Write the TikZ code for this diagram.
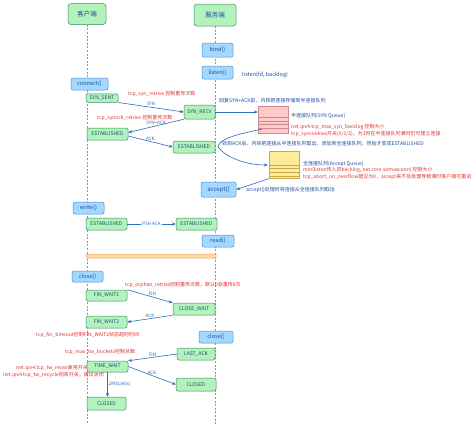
\documentclass[tikz,border=0pt]{standalone}
\usepackage{fontspec}
\setmainfont{Noto Sans CJK SC}
\usetikzlibrary{arrows.meta,calc}
\definecolor{gfill}{HTML}{B2F2BB}
\definecolor{gstroke}{HTML}{3A8A6A}
\definecolor{stext}{HTML}{1E4F7A}
\definecolor{bfill}{HTML}{A5D8FF}
\definecolor{bstroke}{HTML}{4A8BD0}
\definecolor{btext}{HTML}{1C4F9C}
\definecolor{redc}{HTML}{E03131}
\definecolor{annc}{HTML}{1C4FA0}
\definecolor{arrc}{HTML}{2F6DB5}
\definecolor{lifec}{HTML}{7A9AB8}
\definecolor{pinkf}{HTML}{FFC9C9}
\definecolor{pinks}{HTML}{C98A94}
\definecolor{yelf}{HTML}{FFEC99}
\definecolor{yels}{HTML}{C9A84A}
\definecolor{oranf}{HTML}{FFD8A8}
\definecolor{orans}{HTML}{E8A060}
\tikzset{
  base/.style={draw, rounded corners=2pt, line width=0.5pt, inner sep=0pt, align=center},
  gbox/.style={base, fill=gfill, draw=gstroke, text=stext, font=\fontsize{5}{5.5}\selectfont},
  bbox/.style={base, fill=bfill, draw=bstroke, text=btext, font=\fontsize{5.6}{6}\selectfont},
  hbox/.style={base, fill=gfill, draw=gstroke, text=btext, rounded corners=3pt, font=\fontsize{6.5}{7}\selectfont},
  redt/.style={anchor=west, inner sep=0pt, text=redc, font=\fontsize{5}{5.5}\selectfont},
  annt/.style={anchor=west, inner sep=0pt, text=annc, font=\fontsize{5}{5.5}\selectfont},
  msg/.style={-{Stealth[length=3.8pt,width=3.2pt]}, draw=arrc, line width=0.6pt},
  lbl/.style={text=arrc, font=\fontsize{4.6}{5}\selectfont, inner sep=1pt},
  life/.style={draw=lifec, dash pattern=on 2pt off 1.6pt, line width=0.5pt},
  queue/.style={draw, line width=0.5pt, inner sep=0pt}
}
\begin{document}
\begin{tikzpicture}[x=1pt,y=-1pt]
\useasboundingbox[fill=white] (0,0) rectangle (474,424);
% headers
\node[hbox, minimum width=38, minimum height=21] (client) at (87,14) {客户端};
\node[hbox, minimum width=42, minimum height=22] (server) at (215,15) {服务端};
\coordinate (cend) at (87,424);
\coordinate (send) at (215,424);
\draw[life] (client.south) -- (cend);
\draw[life] (server.south) -- (send);
% server setup
\node[bbox, minimum width=31, minimum height=14] (bind) at (217.5,50) {bind()};
\node[bbox, minimum width=31, minimum height=13] (listen) at (217.5,72.5) {listen()};
\node[annt, font=\fontsize{5.5}{6}\selectfont] (t1) at (242,75) {listen(fd, backlog)};
% connect
\node[bbox, minimum width=37, minimum height=12] (connect) at (89.5,84) {connect()};
\node[gbox, minimum width=32, minimum height=8.5] (synsent) at (102,98) {SYN\_SENT};
\node[redt] (t2) at (128,94) {tcp\_syn\_retries 控制重传次数};
\node[annt] (t3) at (219,101) {回复SYN+ACK前，内核把连接存储到半连接队列};
\node[gbox, minimum width=31, minimum height=14] (synrecv) at (199.5,112) {SYN\_RECV};
\node[redt] (t4) at (97,118) {tcp\_synack\_retries 控制重传次数};
\node[gbox, minimum width=41, minimum height=12] (estc) at (107.5,134) {ESTABLISHED};
\node[gbox, minimum width=42, minimum height=12] (ests) at (194,147) {ESTABLISHED};
\draw[msg] (synsent.south east) -- node[lbl, above, pos=0.5] {SYN} (synrecv.west);
\draw[msg] (synrecv.south west) -- node[lbl, above, pos=0.5] {SYN+ACK} ([yshift=1.5pt]estc.east);
\draw[msg] ([yshift=-2pt]estc.east) -- node[lbl, above, pos=0.5] {ACK} (ests.west);
% syn queue
\node[queue, draw=pinks, fill=pinkf, minimum width=30, minimum height=27] (synq) at (273,119.5) {};
\draw[pinks, line width=0.5pt] (258,117.3) -- (288,117.3) (258,121) -- (288,121) (258,124.7) -- (288,124.7) (258,128.7) -- (288,128.7);
\draw[msg] (synrecv.east) -- (synrecv.east -| synq.west);
\node[annt] (t5) at (291,116) {半连接队列(SYN Queue)};
\node[redt] (t6) at (291,127) {net.ipv4.tcp\_max\_syn\_backlog 控制大小};
\node[redt] (t7) at (291,133.5) {tcp\_syncookies开关(0/1/2)，为1时在半连接队列满时仍可建立连接};
\node[annt] (t8) at (222,143.5) {收到ACK后，内核把连接从半连接队列取出，添加到全连接队列，然后才变成ESTABLISHED};
% accept queue
\node[queue, draw=yels, fill=yelf, minimum width=30, minimum height=27] (accq) at (284,165) {};
\draw[yels, line width=0.5pt] (269,164.8) -- (299,164.8) (269,168.5) -- (299,168.5) (269,172.3) -- (299,172.3) (269,175.8) -- (299,175.8);
\draw[msg] ([xshift=4pt,yshift=4pt]synq.south west) .. controls (238,134) and (218,139) .. ([xshift=3pt]ests.east) .. controls (224,156) and (244,165) .. ([xshift=-1pt]accq.west);
\node[annt] (t9) at (303,163.5) {全连接队列(Accept Queue)};
\node[redt] (t10) at (303,170.5) {min(listen传入的backlog, net.core.somaxconn) 控制大小};
\node[redt] (t11) at (303,177) {tcp\_abort\_on\_overflow建议为0，accept来不及处理导致满时客户端可重试};
\node[bbox, minimum width=35, minimum height=15, font=\fontsize{6}{6.5}\selectfont] (accept) at (218.5,189.5) {accept()};
\draw[msg] (accq.south west) -- (accept.east);
\node[annt] (t12) at (246,189.5) {accept()处理时将连接从全连接队列取出};
% data transfer
\node[bbox, minimum width=31, minimum height=12] (write) at (88.5,208) {write()};
\node[gbox, minimum width=41, minimum height=12] (estc2) at (106.5,224) {ESTABLISHED};
\node[gbox, minimum width=41, minimum height=12] (ests2) at (196.5,224) {ESTABLISHED};
\draw[msg] (estc2.east) -- node[lbl, fill=white, inner sep=0.8pt] {PSH ACK} (ests2.west);
\node[bbox, minimum width=32, minimum height=12] (read) at (218,241) {read()};
\node[base, fill=oranf, draw=orans, rounded corners=0.8pt, minimum width=130, minimum height=4] (bar) at (151,256) {};
% close
\node[bbox, minimum width=31, minimum height=11] (closec) at (87.5,276.5) {close()};
\node[redt] (t13) at (125,285) {tcp\_orphan\_retries控制重传次数，默认0会重传8次};
\node[gbox, minimum width=41, minimum height=11] (fw1) at (106.5,295.5) {FIN\_WAIT1};
\node[gbox, minimum width=42, minimum height=12] (closewait) at (194,309) {CLOSE\_WAIT};
\node[gbox, minimum width=41, minimum height=12] (fw2) at (106.5,322) {FIN\_WAIT2};
\draw[msg] (fw1.north east) -- node[lbl, above, pos=0.55] {FIN} (closewait.north west);
\draw[msg] (closewait.south west) -- node[lbl, above, pos=0.5] {ACK} (fw2.east);
\node[redt] (t14) at (36,335) {tcp\_fin\_timeout控制FIN\_WAIT2状态超时时间};
\node[bbox, minimum width=34, minimum height=12] (closes) at (216,337) {close()};
\node[redt] (t15) at (65,352) {tcp\_max\_tw\_buckets控制总数};
\node[redt] (t16) at (16,368) {net.ipv4.tcp\_tw\_reuse复用开关};
\node[redt] (t17) at (3,375) {net.ipv4.tcp\_tw\_recycle回收开关，建议关闭};
\node[gbox, minimum width=38, minimum height=12] (lastack) at (196,354) {LAST\_ACK};
\node[gbox, minimum width=41, minimum height=11] (timewait) at (107.5,366.5) {TIME\_WAIT};
\node[gbox, minimum width=40, minimum height=13] (closeds) at (196,384.5) {CLOSED};
\node[gbox, minimum width=39, minimum height=13] (closedc) at (106.5,403.5) {CLOSED};
\draw[msg] (lastack.west) -- node[lbl, above, pos=0.5] {FIN} (timewait.north east);
\draw[msg] (timewait.east) -- node[lbl, above, pos=0.5] {ACK} (closeds.west);
\draw[msg] (timewait.south) -- node[lbl, right, pos=0.5] {2MSL(60s)} (timewait.south |- closedc.north);
\end{tikzpicture}
\end{document}
